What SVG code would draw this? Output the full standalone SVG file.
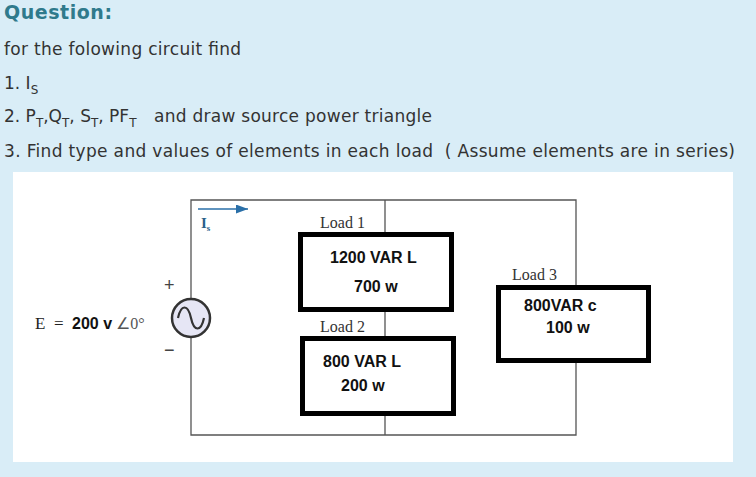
<svg xmlns="http://www.w3.org/2000/svg" width="756" height="477" viewBox="0 0 756 477">
<style>
.q{font-family:"DejaVu Sans",Verdana,sans-serif;font-size:17px;fill:#333}
.s{font-size:12px}
.w{stroke:#555;stroke-width:1.3;fill:none}
.box{fill:#fff;stroke:#000;stroke-width:5}
.b{font-family:"Liberation Sans",Arial,sans-serif;font-weight:bold;font-size:16px;fill:#111}
.ser{font-family:"Liberation Serif","Times New Roman",serif;font-size:16px;fill:#333}
</style>
<defs><marker id="ar" markerWidth="8" markerHeight="6" refX="8" refY="3" orient="auto"><path d="M0,0L8,3L0,6z" fill="#2a6fa8"/></marker></defs>
<rect width="756" height="477" fill="#d9edf7"/>
<text x="4" y="19" textLength="108" style="font-family:'DejaVu Sans',Verdana,sans-serif;font-weight:bold;font-size:19px;fill:#2f7a8c">Question:</text>
<text class="q" x="4" y="55" textLength="237">for the folowing circuit find</text>
<text class="q" x="4" y="89">1. I<tspan class="s" dy="5">S</tspan></text>
<text class="q" x="4" y="122">2. P<tspan class="s" dy="5">T</tspan><tspan dy="-5">,Q</tspan><tspan class="s" dy="5">T</tspan><tspan dy="-5">, S</tspan><tspan class="s" dy="5">T</tspan><tspan dy="-5">, PF</tspan><tspan class="s" dy="5">T</tspan><tspan dy="-5" x="154" textLength="278">and draw source power triangle</tspan></text>
<text class="q" x="4" y="157" xml:space="preserve" textLength="731">3. Find type and values of elements in each load  ( Assume elements are in series)</text>
<rect x="13" y="172" width="720" height="290" fill="#fff"/>
<g id="connectors">
<path class="w" d="M191,298V200H576V435H191V338M385,200V435"/>
<line x1="198" y1="209" x2="248" y2="209" stroke="#2a6fa8" stroke-width="1.5" marker-end="url(#ar)"/>
</g>
<g id="source">
<circle cx="191" cy="318" r="19" fill="#e6e6f5" stroke="#333" stroke-width="2.5"/>
<path d="M178,318C181,304 188,304 191,318S201,332 204,318" fill="none" stroke="#333" stroke-width="2.2"/>
<text x="164" y="291" style="font-family:'Liberation Sans',sans-serif;font-size:18px;fill:#444">+</text>
<text x="164" y="356" style="font-family:'Liberation Sans',sans-serif;font-size:18px;fill:#444">−</text>
<text x="201" y="228" style="font-family:'Liberation Serif',serif;font-weight:bold;font-size:15px;fill:#2a5f8a">I<tspan font-size="9" dy="3">s</tspan></text>
<text x="35" y="329" xml:space="preserve" style="font-family:'Liberation Serif',serif;font-size:17px;fill:#222">E  =  <tspan class="b" font-size="16">200 v</tspan> <tspan font-size="16" fill="#555">∠0°</tspan></text>
</g>
<g id="load1">
<text class="ser" x="320" y="228">Load 1</text>
<rect class="box" x="300.5" y="234.5" width="151" height="75"/>
<text class="b" x="330" y="263">1200 VAR L</text>
<text class="b" x="354" y="292">700 w</text>
</g>
<g id="load2">
<text class="ser" x="320" y="332">Load 2</text>
<rect class="box" x="302.5" y="338.5" width="151" height="75"/>
<text class="b" x="323" y="367">800 VAR L</text>
<text class="b" x="341" y="391">200 w</text>
</g>
<g id="load3">
<text class="ser" x="512" y="280">Load 3</text>
<rect class="box" x="498.5" y="287.5" width="150" height="73"/>
<text class="b" x="524" y="311">800VAR c</text>
<text class="b" x="546" y="333">100 w</text>
</g>
</svg>
